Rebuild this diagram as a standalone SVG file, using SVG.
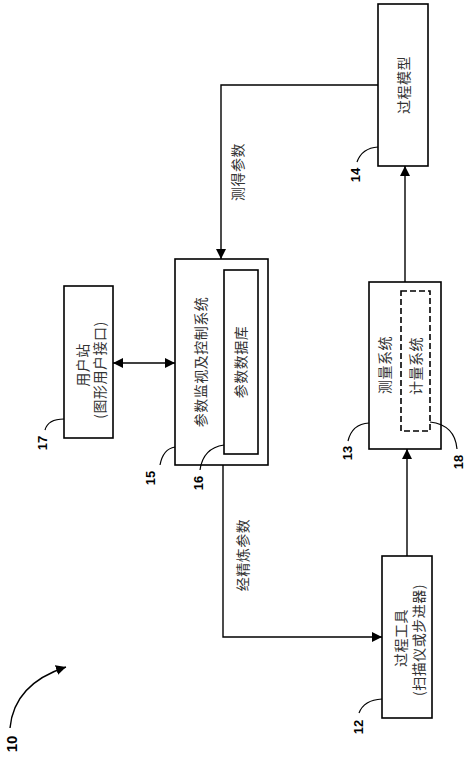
<svg xmlns="http://www.w3.org/2000/svg" width="474" height="758" viewBox="0 0 474 758">
<defs>
<marker id="ah" viewBox="0 0 10 10" refX="10" refY="5" markerWidth="10" markerHeight="10" markerUnits="userSpaceOnUse" orient="auto-start-reverse">
<path d="M0,0 L10,5 L0,10 Z" fill="#000"/>
</marker>
<style>
.box{fill:#fff;stroke:#000;stroke-width:1.6}
.dash{fill:none;stroke:#000;stroke-width:1.6;stroke-dasharray:6,3}
.ln{fill:none;stroke:#000;stroke-width:1.4}
.lead{fill:none;stroke:#000;stroke-width:1.2}
.t{font-family:"Noto Sans CJK SC","Liberation Serif",serif;font-size:14px;letter-spacing:0.5px;fill:#333;text-anchor:middle;dominant-baseline:central}
.n{font-family:"Liberation Sans",Arial,sans-serif;font-size:13px;font-weight:bold;fill:#000;text-anchor:middle;dominant-baseline:central}
</style>
</defs>
<rect width="474" height="758" fill="#fff"/>
<g id="connectors">
<path class="ln" d="M378,85 H221 V259" marker-end="url(#ah)"/>
<path class="ln" d="M223,465 V637 H382" marker-end="url(#ah)"/>
<path class="ln" d="M407,556 V449" marker-end="url(#ah)"/>
<path class="ln" d="M405,282 V166" marker-end="url(#ah)"/>
<path class="ln" d="M113,363 H175" marker-start="url(#ah)" marker-end="url(#ah)"/>
<text class="t" transform="translate(237,172) rotate(-90)">测得参数</text>
<text class="t" transform="translate(242,555) rotate(-90)">经精炼参数</text>
</g>
<g id="process-model">
<rect class="box" x="378" y="4" width="50" height="162"/>
<text class="t" transform="translate(403,85) rotate(-90)">过程模型</text>
<path class="lead" d="M357,162 Q362,148 378,147"/>
<text class="n" transform="translate(355,175) rotate(-90)">14</text>
</g>
<g id="measurement-system">
<rect class="box" x="369" y="282" width="72" height="167"/>
<text class="t" transform="translate(384,365) rotate(-90)">测量系统</text>
<text class="n" transform="translate(347,453) rotate(-90)">13</text>
<path class="lead" d="M348,441 Q352,424 369,423"/>
</g>
<g id="metrology-system">
<rect class="dash" x="401" y="291" width="29" height="140"/>
<text class="t" transform="translate(415,366) rotate(-90)">计量系统</text>
<path class="lead" d="M430,422 Q455,425 457,449"/>
<text class="n" transform="translate(458,462) rotate(-90)">18</text>
</g>
<g id="process-tool">
<rect class="box" x="382" y="556" width="50" height="162"/>
<text class="t" transform="translate(400,638) rotate(-90)">过程工具</text>
<text class="t" transform="translate(418,640) rotate(-90)">(扫描仪或步进器)</text>
<path class="lead" d="M359,713 Q364,700 382,699"/>
<text class="n" transform="translate(358,727) rotate(-90)">12</text>
</g>
<g id="param-control">
<rect class="box" x="175" y="259" width="93" height="206"/>
<text class="t" transform="translate(200,362) rotate(-90)">参数监视及控制系统</text>
<path class="lead" d="M160,465 Q163,449 175,447"/>
<text class="n" transform="translate(150,478) rotate(-90)">15</text>
</g>
<g id="param-db">
<rect class="box" x="224" y="270" width="34" height="184"/>
<text class="t" transform="translate(240,362) rotate(-90)">参数数据库</text>
<path class="lead" d="M200,470 Q203,448 224,445"/>
<text class="n" transform="translate(198,483) rotate(-90)">16</text>
</g>
<g id="user-station">
<rect class="box" x="64" y="286" width="49" height="152"/>
<text class="t" transform="translate(82,365) rotate(-90)">用户站</text>
<text class="t" transform="translate(99,370) rotate(-90)">(图形用户接口)</text>
<path class="lead" d="M45,430 Q48,419 64,419"/>
<text class="n" transform="translate(42,443) rotate(-90)">17</text>
</g>
<g id="system-10">
<path class="ln" d="M10,728 Q14,684 66,667" marker-end="url(#ah)"/>
<text class="n" transform="translate(11,744) rotate(-90)" style="font-size:15px">10</text>
</g>
</svg>
